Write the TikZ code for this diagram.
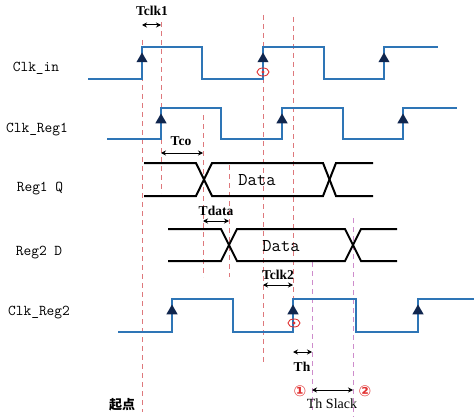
\documentclass[tikz,border=0pt]{standalone}
\usepackage{fontspec}
\setmainfont{Liberation Serif}
\newfontfamily\cjkfont{Noto Sans CJK SC}
\newfontfamily\symbfont{DejaVu Sans}
\usetikzlibrary{shapes.geometric,arrows.meta}

\definecolor{clkblue}{RGB}{46,117,182}
\definecolor{edgenavy}{RGB}{16,38,78}
\definecolor{guidered}{RGB}{222,120,124}
\definecolor{guideviolet}{RGB}{206,140,204}
\definecolor{hitred}{RGB}{225,50,50}

\tikzset{
  clk/.style={draw=clkblue, line width=2.2pt},
  bus/.style={draw=black, line width=2pt},
  guide/.style={draw=guidered, line width=1pt, dash pattern=on 5pt off 4pt},
  guidev/.style={guide, draw=guideviolet},
  dim/.style={{Stealth[length=5pt,width=5pt]}-{Stealth[length=5pt,width=5pt]}, line width=1pt},
  tri/.style={regular polygon, regular polygon sides=3, fill=edgenavy, minimum size=13pt, inner sep=0pt},
  hit/.style={ellipse, draw=hitred, line width=0.9pt, minimum width=12pt, minimum height=8pt, inner sep=0pt},
  hitdot/.style={circle, fill=hitred, minimum size=3.2pt, inner sep=0pt},
  sig/.style={font=\ttfamily\fontsize{15}{15}\selectfont},
  datatext/.style={font=\ttfamily\fontsize{18}{18}\selectfont},
  tlabel/.style={font=\bfseries\fontsize{13.5}{13.5}\selectfont},
  num/.style={text=hitred, font=\symbfont\bfseries\fontsize{15}{15}\selectfont, inner sep=0pt},
}

\begin{document}
\begin{tikzpicture}[x=1pt,y=-1pt]
\useasboundingbox (0,0) rectangle (474,420);

% edge times
\coordinate (tA) at (142,0);
\coordinate (tB) at (161,0);
\coordinate (tC) at (203,0);
\coordinate (tD) at (229,0);
\coordinate (tE) at (263,0);
\coordinate (tF) at (293,0);
\coordinate (tG) at (312,0);
\coordinate (tH) at (353,0);

% guides
\draw[guide] (tA |- 0,40) -- (tA |- 0,412);
\draw[guide] (tB |- 0,22) -- (tB |- 0,193);
\draw[guide] (tC |- 0,115) -- (tC |- 0,277);
\draw[guide] (tD |- 0,165) -- (tD |- 0,277);
\draw[guide] (tE |- 0,15) -- (tE |- 0,365);
\draw[guide] (tF |- 0,17) -- (tF |- 0,318);
\draw[guidev] (tG |- 0,262) -- (tG |- 0,410);
\draw[guidev] (tH |- 0,218) -- (tH |- 0,417);

% signal names
\node[sig] (lclkin) at (36,68) {Clk\_in};
\node[sig] (lclkreg1) at (37,130) {Clk\_Reg1};
\node[sig] (lreg1q) at (40,189) {Reg1 Q};
\node[sig] (lreg2d) at (39,253) {Reg2 D};
\node[sig] (lclkreg2) at (39,313) {Clk\_Reg2};

% clocks
\draw[clk] (88,79) -- (142,79) -- (142,47) -- (202,47) -- (202,79) -- (263,79) -- (263,47) -- (324,47) -- (324,79) -- (384,79) -- (384,47) -- (438,47);
\draw[clk] (107,139) -- (161,139) -- (161,108) -- (221,108) -- (221,139) -- (282,139) -- (282,108) -- (343,108) -- (343,139) -- (403,139) -- (403,108) -- (457,108);
\draw[clk] (118,332) -- (172,332) -- (172,299) -- (233,299) -- (233,332) -- (293,332) -- (293,299) -- (356,299) -- (356,332) -- (418,332) -- (418,299) -- (474,299);

% rising edge marks
\node[tri] (upA1) at (142,59) {};
\node[tri] (upA2) at (263,59) {};
\node[tri] (upA3) at (384,59) {};
\node[tri] (upB1) at (161,120) {};
\node[tri] (upB2) at (282,120) {};
\node[tri] (upB3) at (403,120) {};
\node[tri] (upC1) at (172,311) {};
\node[tri] (upC2) at (293,311) {};
\node[tri] (upC3) at (418,311) {};

% launch and capture edges
\node[hit] (hitlaunch) at (263,72) {};
\node[hitdot] (dotlaunch) at (263,72) {};
\node[hit] (hitcapture) at (294,323) {};
\node[hitdot] (dotcapture) at (294,323) {};

% data
\draw[bus] (144,163) -- (196,163) -- (212,196) -- (323,196) -- (336,163) -- (373,163);
\draw[bus] (144,196) -- (196,196) -- (212,163) -- (323,163) -- (336,196) -- (373,196);
\node[datatext] (qdata) at (257,180) {Data};
\draw[bus] (168,229) -- (221,229) -- (237,261) -- (345,261) -- (361,229) -- (397,229);
\draw[bus] (168,261) -- (221,261) -- (237,229) -- (345,229) -- (361,261) -- (397,261);
\node[datatext] (ddata) at (281,246) {Data};

% delays
\node[tlabel] (ltclk1) at (152,11) {Tclk1};
\draw[dim] (tA |- 0,25) -- (tB |- 0,25);
\node[tlabel] (ltco) at (181,141) {Tco};
\draw[dim] (tB |- 0,153) -- (tC |- 0,153);
\node[tlabel] (ltdata) at (216,211) {Tdata};
\draw[dim] (tC |- 0,221) -- (tD |- 0,221);
\node[tlabel] (ltclk2) at (278,275) {Tclk2};
\draw[dim] (tE |- 0,285) -- (tF |- 0,285);
\node[tlabel] (lth) at (302,367) {Th};
\draw[dim] (tF |- 0,352) -- (tG |- 0,352);
\node[num] (one) at (300,391) {①};
\node[num] (two) at (365,391) {②};
\draw[dim] (tG |- 0,390) -- (tH |- 0,390);
\node[font=\fontsize{14}{14}\selectfont] (lslack) at (332,404) {Th Slack};
\node[font=\cjkfont\bfseries\fontsize{13}{13}\selectfont] (lstart) at (122,405) {起点};
\end{tikzpicture}
\end{document}
